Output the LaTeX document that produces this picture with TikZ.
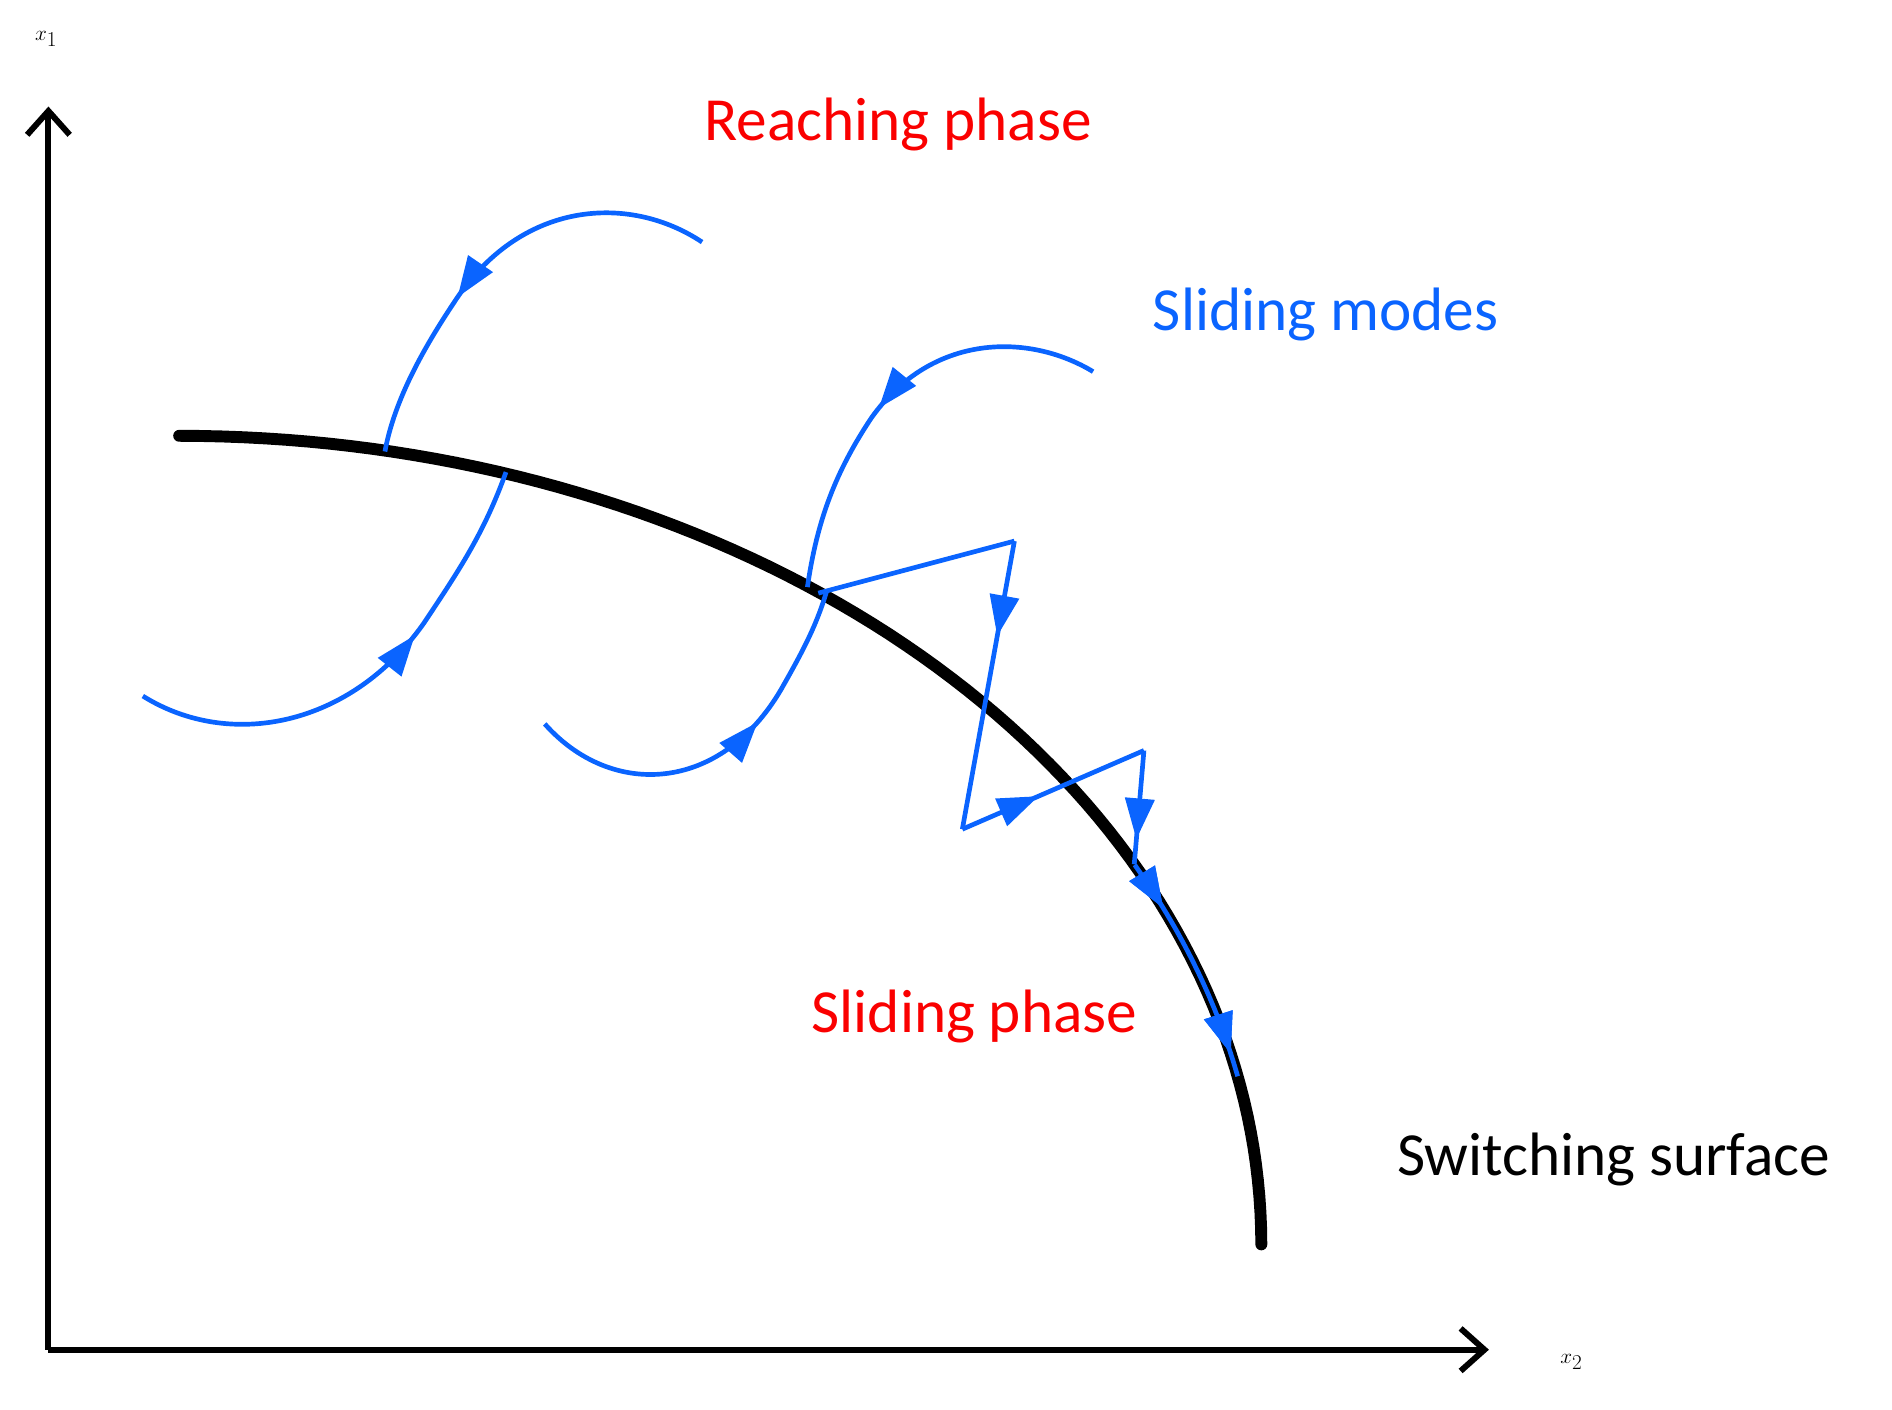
\documentclass[tikz,border=0pt]{standalone}
\usepackage{fontspec}
\setmainfont{Carlito}
\usetikzlibrary{arrows.meta,decorations.markings}
\definecolor{tblue}{RGB}{10,100,255}
\definecolor{tred}{RGB}{250,0,0}
\tikzset{
  traj/.style={draw=tblue,line width=5.5pt},
  tip/.style={postaction={decorate},decoration={markings,mark=at position #1 with {\arrow{Triangle[length=48pt,width=34pt]}}}},
  lbl/.style={font=\fontsize{72}{80}\selectfont},
  axis/.style={line width=7pt,-{Straight Barb[length=28pt,width=50pt,line width=7pt]}}
}
\begin{document}
\begin{tikzpicture}[x=0.05cm,y=-0.05cm]
\useasboundingbox (0,0) rectangle (1563,1164);
\coordinate (o) at (40,1115);
\coordinate (ytop) at (40,88);
\coordinate (xend) at (1230,1115);
\draw[axis] (o) -- (ytop);
\draw[axis] (o) -- (xend);
\node (x1) at (38,32) {\fontsize{80}{90}\selectfont$x_1$};
\node (x2) at (1298,1125) {\fontsize{80}{90}\selectfont$x_2$};
% switching surface
\draw[line width=14pt,line cap=round] plot[domain=90:0,samples=80] ({148+894*cos(\x)},{1028-668*sin(\x)});
% blue along surface
\draw[traj,tip=0.22,tip=0.9] plot[domain=28:12,samples=30] ({148+894*cos(\x)},{1028-668*sin(\x)});
% reaching trajectories
\coordinate (a1) at (580,200); \coordinate (b1) at (318,373);
\draw[traj,tip=0.62] (a1) .. controls (520,160) and (430,165) .. (375,250) .. controls (345,295) and (325,335) .. (b1);
\coordinate (a2) at (118,575); \coordinate (b2) at (418,390);
\draw[traj,tip=0.62] (a2) .. controls (190,620) and (290,600) .. (350,515) .. controls (380,470) and (400,440) .. (b2);
\coordinate (a3) at (903,307); \coordinate (b3) at (667,485);
\draw[traj,tip=0.55] (a3) .. controls (850,275) and (770,275) .. (720,345) .. controls (690,390) and (675,430) .. (b3);
\coordinate (a4) at (450,598); \coordinate (b4) at (683,488);
\draw[traj,tip=0.62] (a4) .. controls (505,660) and (595,655) .. (645,570) .. controls (665,535) and (675,515) .. (b4);
% chattering
\coordinate (z0) at (676,490); \coordinate (z1) at (838,447);
\coordinate (z2) at (795,685); \coordinate (z3) at (945,620); \coordinate (z4) at (937,714);
\draw[traj,line join=miter] (z0) -- (z1);
\draw[traj,tip=0.33] (z1) -- (z2);
\draw[traj,tip=0.42] (z2) -- (z3);
\draw[traj,tip=0.78] (z3) -- (z4);
% labels
\node[lbl,text=tred] (rp) at (742,103) {Reaching phase};
\node[lbl,text=tblue] (sm) at (1095,260) {Sliding modes};
\node[lbl,text=tred] (sp) at (805,840) {Sliding phase};
\node[lbl] (ss) at (1333,958) {Switching surface};
\end{tikzpicture}
\end{document}
